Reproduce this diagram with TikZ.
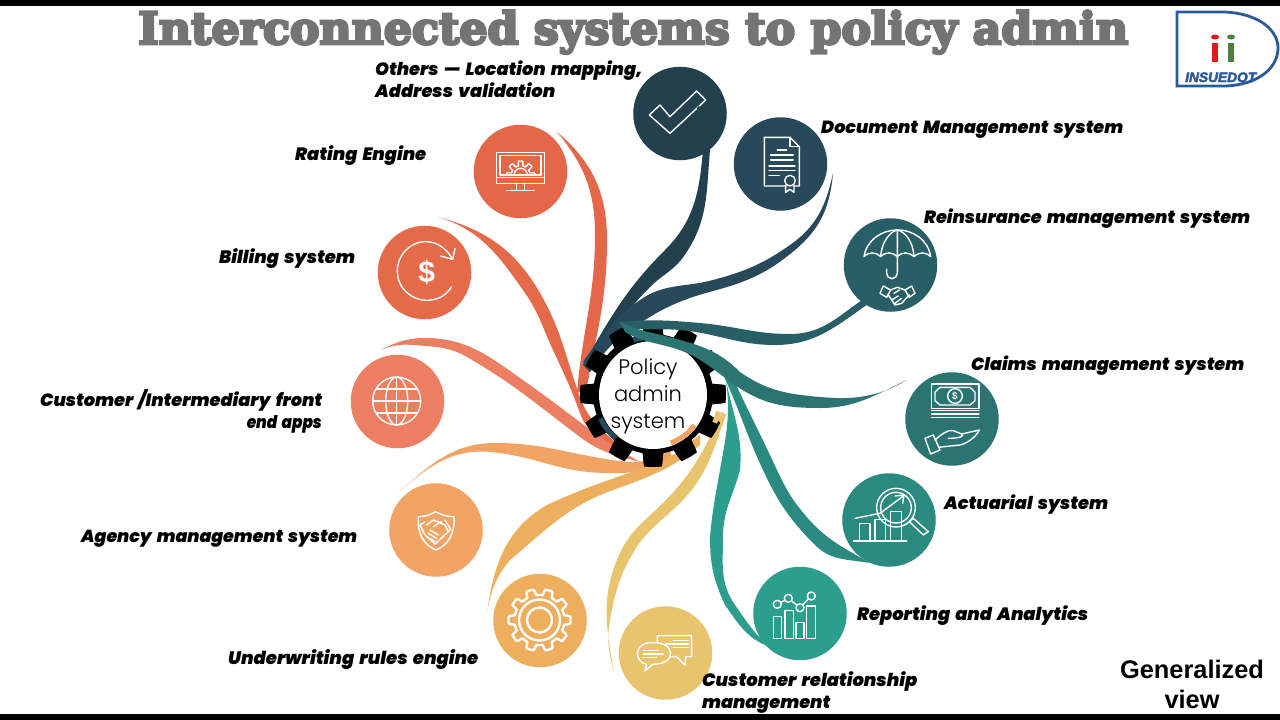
\documentclass[tikz,border=0pt]{standalone}
\usepackage{graphicx}
\usepackage{fontspec}
\setmainfont{DejaVu Sans}
\newfontfamily\labf[WordSpace=1.7]{Poppins Black Italic}
\newfontfamily\titf[FakeBold=6]{DejaVu Serif Bold}
\newfontfamily\polf{Poppins Light}
\newfontfamily\genf{Liberation Sans Bold}
\newfontfamily\logf[FakeBold=3]{Liberation Sans Bold Italic}
\definecolor{cOth}{HTML}{22404E}
\definecolor{cDoc}{HTML}{27495A}
\definecolor{cRei}{HTML}{285F66}
\definecolor{cCla}{HTML}{2C7472}
\definecolor{cAct}{HTML}{2A8A7F}
\definecolor{cRep}{HTML}{2B9E8E}
\definecolor{cCrm}{HTML}{E7C46D}
\definecolor{cUnd}{HTML}{EDAE5E}
\definecolor{cAge}{HTML}{F2A465}
\definecolor{cCus}{HTML}{EC7E62}
\definecolor{cBil}{HTML}{E56A4A}
\definecolor{cRat}{HTML}{E5674A}
\definecolor{cLogo}{HTML}{2A5A9A}
\definecolor{cLogoG}{HTML}{4F7F3F}
\definecolor{cLogoR}{HTML}{E01B1B}
\newcommand{\fitw}[2]{\resizebox{#1pt}{!}{#2}}
\tikzset{
  disc/.style={circle,minimum size=93.5pt,inner sep=0pt,draw=none},
  lab/.style={anchor=base west,inner sep=0pt,font=\labf\fontsize{18pt}{18pt}\selectfont,text=black},
  ic/.style={draw=white,line width=1.4pt,line join=round,line cap=round},
  zm/.style 2 args={shift={(#1pt,-#2pt)},x=.3333pt,y=-.3333pt}
}
\begin{document}
\begin{tikzpicture}[x=1pt,y=-1pt]
\useasboundingbox (0,0) rectangle (1280,720);
\fill[white] (0,0) rectangle (1280,720);
\fill[black] (0,0) rectangle (1280,6);
\fill[black] (0,714) rectangle (1280,720);
% ribbons
\fill[cRat] (557,132) to[out=-40,in=90] (607,240) to[out=-90,in=80] (586,392) -- (577,392) to[out=85,in=-90] (595,235) to[out=90,in=-50] (557,132) -- cycle;
\fill[cBil] (438,217) to[out=-15,in=120] (540,293) to[out=-60,in=110] (580,397) to[out=-70,in=140] (625,450) -- (625,456) to[out=145,in=-70] (580,413) to[out=110,in=-65] (553,350) to[out=115,in=-55] (525,293) to[out=125,in=-17] (438,217) -- cycle;
\fill[cCus] (380,350) to[out=25,in=180] (425,338) to[out=0,in=145] (527,383) to[out=-35,in=150] (640,462) to[out=165,in=-37] (580,437) to[out=143,in=-30] (467,357) to[out=150,in=-5] (413,345) to[out=175,in=20] (380,350) -- cycle;
\fill[cAge] (395,495) to[out=40,in=180] (495,443) to[out=0,in=170] (600,458) to[out=-10,in=215] (670,450) -- (672,458) to[out=215,in=0] (607,473) to[out=180,in=-5] (490,452) to[out=175,in=40] (395,495) -- cycle;
\fill[cCrm] (614,672) to[out=100,in=245] (620,553) to[out=65,in=225] (663,503) to[out=45,in=245] (722,412) -- (726,415) to[out=250,in=45] (680,503) to[out=225,in=60] (633,553) to[out=240,in=80] (610,620) to[out=260,in=105] (614,672) -- cycle;
\fill[cUnd] (487,613) to[out=82,in=210] (547,505) to[out=25,in=200] (660,462) to[out=25,in=215] (700,435) -- (700,445) to[out=220,in=20] (613,490) to[out=200,in=40] (510,560) to[out=230,in=80] (487,613) -- cycle;
\fill[cOth] (703,150) to[out=265,in=45] (665,250) to[out=225,in=60] (583,365) -- (590,372) to[out=60,in=225] (650,287) to[out=45,in=235] (684,256) to[out=55,in=265] (710,150) -- cycle;
\fill[cDoc] (833,173) to[out=265,in=40] (795,250) to[out=220,in=15] (713,291) to[out=195,in=35] (630,330) to[out=215,in=55] (590,372) -- (583,362) to[out=55,in=215] (640,300) to[out=35,in=195] (713,280) to[out=15,in=215] (790,245) to[out=35,in=258] (833,173) -- cycle;
\fill[cRep] (725,375) to[out=-80,in=80] (720,470) to[out=-100,in=85] (710,537) to[out=-90,in=115] (725,605) to[out=-55,in=160] (770,647) to[out=140,in=-55] (735,605) to[out=125,in=-90] (723,537) to[out=90,in=-105] (740,470) to[out=85,in=-80] (725,375) -- cycle;
\fill[cAct] (722,372) to[out=-65,in=115] (763,470) to[out=-65,in=135] (815,545) to[out=-45,in=170] (870,563) to[out=150,in=-50] (805,515) to[out=130,in=-65] (777,470) to[out=115,in=-65] (730,372) -- cycle;
% gear
\fill[black,shift={(653,394)}] plot[domain=0:360,samples=361] ({\x}:{66.5+6.5*max(-1,min(1,4*(cos(12*\x)+.2)))}) -- cycle;
\node[circle,fill=white,minimum size=108pt,inner sep=0pt] (hub) at (653,395) {};
% pieces over the gear
\draw[cDoc,line width=5pt,shift={(653,394)}] (155:58) arc[start angle=155,end angle=130,radius=58];
\draw[cDoc,line width=5pt,shift={(653,394)}] (250:57) arc[start angle=250,end angle=275,radius=57];
\draw[cAge,line width=5pt,shift={(653,394)}] (70:52) arc[start angle=70,end angle=37,radius=52];
\draw[cCrm,line width=5pt,shift={(653,394)}] (25:68) arc[start angle=25,end angle=15,radius=68];
\fill[cRei] (868,304) to[out=215,in=0] (775,345) to[out=180,in=-5] (680,330) to[out=175,in=-15] (622,326) -- (618,322) to[out=5,in=175] (700,323) to[out=-5,in=180] (790,334) to[out=0,in=215] (862,300) -- cycle;
\fill[cCla] (620,322) to[out=-25,in=165] (673,338) to[out=-15,in=135] (740,372) to[out=-35,in=175] (820,397) to[out=-5,in=210] (907,380) to[out=205,in=0] (820,408) to[out=180,in=-35] (735,385) to[out=145,in=-15] (670,347) to[out=165,in=-30] (625,332) -- cycle;
% discs
\node[disc,fill=cOth] (others) at (680,113.5) {};
\node[disc,fill=cDoc] (docm) at (780.5,164) {};
\node[disc,fill=cRei] (reins) at (890.5,265) {};
\node[disc,fill=cCla] (claims) at (952,419) {};
\node[disc,fill=cAct] (actu) at (889,520) {};
\node[disc,fill=cRep] (repo) at (800,613.5) {};
\node[disc,fill=cCrm] (crm) at (665.5,653) {};
\node[disc,fill=cUnd] (under) at (540,620.5) {};
\node[disc,fill=cAge] (agency) at (436,530) {};
\node[disc,fill=cCus] (cust) at (397.5,401.5) {};
\node[disc,fill=cBil] (bill) at (424.5,272.5) {};
\node[disc,fill=cRat] (rate) at (520.5,171.5) {};
% icon: check
\begin{scope}[zm={620}{60}]
\draw[ic] (88,165)--(120,135)--(150,170)--(230,93)--(257,120)--(150,220)--cycle;
\draw[cOth,line width=1.5pt] (238,140)--(232,146);
\end{scope}
% icon: document
\begin{scope}[zm={620}{60}]
\draw[ic] (433,232)--(510,232)--(538,260)--(538,378)--(433,378)--cycle;
\draw[ic] (510,232)--(510,260)--(538,260);
\foreach \yy/\xa/\xb in {270/472/500,285/452/520,300/452/520,318/447/525,332/447/525,347/447/478} {\draw[ic] (\xa,\yy)--(\xb,\yy);}
\fill[cDoc] (510,362) circle[radius=20];
\draw[ic] (510,362) circle[radius=16];
\draw[ic] (497,376)--(497,397)--(510,388)--(522,397)--(522,376);
\end{scope}
% icon: umbrella + handshake
\begin{scope}[zm={620}{60}]
\draw[ic] (732,590) .. controls (740,540) and (785,510) .. (832,510) .. controls (880,510) and (925,540) .. (932,590) .. controls (915,575) and (900,575) .. (882,590) .. controls (865,575) and (848,575) .. (832,590) .. controls (815,575) and (798,575) .. (782,590) .. controls (765,575) and (748,575) .. (732,590);
\draw[ic] (832,510)--(832,640) arc[start angle=0,end angle=180,radius=16]--(800,628);
\draw[ic] (782,590) .. controls (785,545) and (810,515) .. (832,510) .. controls (855,515) and (880,545) .. (882,590);
\draw[ic] (780,700)--(790,678)--(812,690)--(800,712)--cycle;
\draw[ic] (885,700)--(875,678)--(855,690)--(868,712)--cycle;
\draw[ic] (812,690)--(832,682)--(855,690) (805,705)--(825,735)--(845,730)--(868,705) (822,700)--(838,690) (815,720)--(835,708) (825,730)--(845,715);
\end{scope}
% icon: money + hand
\begin{scope}[zm={820}{360}]
\draw[ic] (335,72) rectangle (477,145);
\draw[ic] (360,82) -- (450,82) -- (465,96) -- (465,122) -- (450,135) -- (360,135) -- (345,122) -- (345,96) -- cycle;
\draw[ic] (405,108) circle[radius=22];
\node[text=white,font=\genf\fontsize{10pt}{10pt}\selectfont,inner sep=0pt] (cash) at (405,108) {\$};
\foreach \yy in {152,162,172} {\draw[ic] (335,\yy)--(477,\yy);}
\draw[ic] (315,235)--(340,225)--(360,270)--(332,282)--cycle;
\draw[ic] (345,240) .. controls (365,222) and (385,208) .. (400,212) -- (425,222) .. controls (435,228) and (420,235) .. (385,235) (425,222)--(478,210) .. controls (465,235) and (440,250) .. (420,255) -- (355,262);
\end{scope}
% icon: chart + magnifier
\begin{scope}[zm={820}{360}]
\draw[ic] (228,443) circle[radius=58];
\draw[ic] (228,443) circle[radius=46];
\draw[ic] (268,485)--(280,475)--(325,515)--(310,525)--cycle;
\draw[ic] (118,540)--(118,490)--(150,490)--(150,540);
\draw[ic] (165,540)--(165,478)--(197,478)--(197,540);
\draw[ic] (212,540)--(212,455)--(245,455)--(245,540);
\draw[ic] (100,543)--(260,543);
\draw[ic] (105,475)--(180,460)--(250,408);
\draw[ic] (225,408)--(252,405)--(248,430);
\end{scope}
% icon: bars + trend
\begin{scope}[zm={380}{470}]
\draw[ic] (1180,440) rectangle (1205,505);
\draw[ic] (1215,422) rectangle (1240,505);
\draw[ic] (1248,458) rectangle (1272,505);
\draw[ic] (1280,408) rectangle (1306,505);
\draw[ic] (1192,403) circle[radius=12];
\draw[ic] (1225,385) circle[radius=12];
\draw[ic] (1260,413) circle[radius=12];
\draw[ic] (1294,378) circle[radius=12];
\draw[ic] (1203,397)--(1214,391) (1235,393)--(1250,405) (1269,403)--(1285,387);
\end{scope}
% icon: chat
\begin{scope}[zm={380}{470}]
\draw[ic] (832,515)--(832,497)--(935,497)--(935,560)--(918,560)--(915,585)--(890,560)--(870,560);
\draw[ic] (822,518) .. controls (795,515) and (772,530) .. (772,550) .. controls (772,568) and (785,580) .. (800,583) -- (795,603) -- (818,583) .. controls (850,583) and (872,570) .. (872,550) .. controls (872,530) and (850,518) .. (822,518);
\foreach \xa/\xb/\yy in {790/835/542,790/850/552,790/830/563,880/925/512,858/925/522,880/925/532} {\draw[ic] (\xa,\yy)--(\xb,\yy);}
\end{scope}
% icon: cog
\begin{scope}[shift={(539.5,620)}]
\draw[ic,line width=2.4pt] plot[domain=0:360,samples=241] ({\x}:{28+3*max(-1,min(1,3*cos(10*\x)))}) -- cycle;
\draw[ic,line width=2.4pt] (0,0) circle[radius=20.5];
\draw[ic,line width=2.4pt] (0,0) circle[radius=12.5];
\end{scope}
% icon: shield + handshake
\begin{scope}[zm={380}{470}]
\draw[ic] (115,140) .. controls (135,140) and (150,135) .. (167,125) .. controls (185,135) and (200,140) .. (222,140) .. controls (225,190) and (205,225) .. (168,240) .. controls (130,225) and (112,190) .. (115,140) -- cycle;
\draw[ic] (135,155)--(120,165)--(135,195) (195,150)--(212,178)--(200,190) (140,165)--(160,150)--(195,165)--(205,185)--(165,222)--(135,195);
\draw[ic] (160,170)--(185,155) (145,190)--(170,205) (140,200)--(165,215) (150,180)--(175,195);
\end{scope}
% icon: globe
\begin{scope}[shift={(396.7,401)}]
\draw[ic] (0,0) circle[radius=24];
\draw[ic] (0,0) ellipse[x radius=11,y radius=24];
\draw[ic] (0,-24)--(0,24) (-24,0)--(24,0) (-20,-12)--(20,-12) (-20,12)--(20,12);
\end{scope}
% icon: dollar cycle
\begin{scope}[zm={340}{120}]
\draw[ic] (338,418) .. controls (320,385) and (290,365) .. (257,365) .. controls (210,365) and (172,405) .. (172,453) .. controls (172,505) and (215,541) .. (260,541) .. controls (295,541) and (320,525) .. (335,500);
\draw[ic] (302,408)--(338,418)--(345,385);
\node[text=white,font=\genf\fontsize{30pt}{30pt}\selectfont,inner sep=0pt] (dollar) at (260,456) {\$};
\end{scope}
% icon: monitor
\begin{scope}[zm={340}{120}]
\draw[ic] (470,97) rectangle (613,190);
\draw[ic] (480,107) rectangle (603,165);
\draw[ic] (470,172)--(613,172);
\draw[ic] (530,190)--(530,212) (553,190)--(553,212) (500,212)--(583,212);
\begin{scope}[shift={(542,165)}]
\draw[ic] plot[domain=180:360,samples=121] ({\x}:{35+7*max(-1,min(1,3*cos(8*\x)))});
\draw[ic] (-20,0) arc[start angle=180,end angle=360,radius=20];
\end{scope}
\end{scope}
% labels
\node[lab] (t1a) at (375,75) {\fitw{267}{Others — Location mapping,}};
\node[lab] (t1b) at (375,97) {\fitw{180}{Address validation}};
\node[lab] (t2) at (821,133) {\fitw{302}{Document Management system}};
\node[lab] (t3) at (924,223) {\fitw{326}{Reinsurance management system}};
\node[lab] (t4) at (971,370) {\fitw{273}{Claims management system}};
\node[lab] (t5) at (944,509) {\fitw{164}{Actuarial system}};
\node[lab] (t6) at (857,620) {\fitw{231}{Reporting and Analytics}};
\node[lab] (t7a) at (702,686) {\fitw{215}{Customer relationship}};
\node[lab] (t7b) at (702,708) {\fitw{128}{management}};
\node[lab] (t8) at (228,664) {\fitw{250}{Underwriting rules engine}};
\node[lab] (t9) at (81,542) {\fitw{276}{Agency management system}};
\node[lab] (t10a) at (40,406) {\fitw{282}{Customer /Intermediary front}};
\node[lab,anchor=base east] (t10b) at (322,428) {\resizebox{75pt}{13pt}{end apps}};
\node[lab] (t11) at (219,263) {\fitw{136}{Billing system}};
\node[lab] (t12) at (295,160) {\fitw{131}{Rating Engine}};
% title
\node[anchor=base west,inner sep=0pt,text={rgb,255:red,116;green,116;blue,116}] (title) at (138,44) {\resizebox{990pt}{!}{\titf\fontsize{40pt}{40pt}\selectfont Interconnected systems to policy admin}};
% hub text
\node[align=center,inner sep=0pt,font=\polf\fontsize{21pt}{27pt}\selectfont] (hubtext) at (648,396.5) {Policy\\admin\\system};
% generalized
\node[anchor=base,inner sep=0pt] (gen1) at (1192,678) {\resizebox{144pt}{!}{\genf Generalized}};
\node[anchor=base,inner sep=0pt] (gen2) at (1192,708) {\resizebox{55pt}{!}{\genf view}};
% logo
\draw[cLogo,line width=2.8pt] (1177,12) -- (1225,12) .. controls (1262,14) and (1278,32) .. (1278,48) .. controls (1278,68) and (1258,85) .. (1225,86) -- (1177,86) -- cycle;
\fill[cLogoR] (1212,43) rectangle (1218,62);
\fill[cLogoR] (1215,37) ellipse[x radius=4,y radius=2.5];
\fill[cLogoG] (1228,43) rectangle (1234,62);
\fill[cLogoG] (1231,37) ellipse[x radius=4,y radius=2.5];
\node[anchor=base west,inner sep=0pt,text=cLogo] (logotext) at (1185,82) {\resizebox{71pt}{!}{\logf INSUEDOT}};
\end{tikzpicture}
\end{document}
